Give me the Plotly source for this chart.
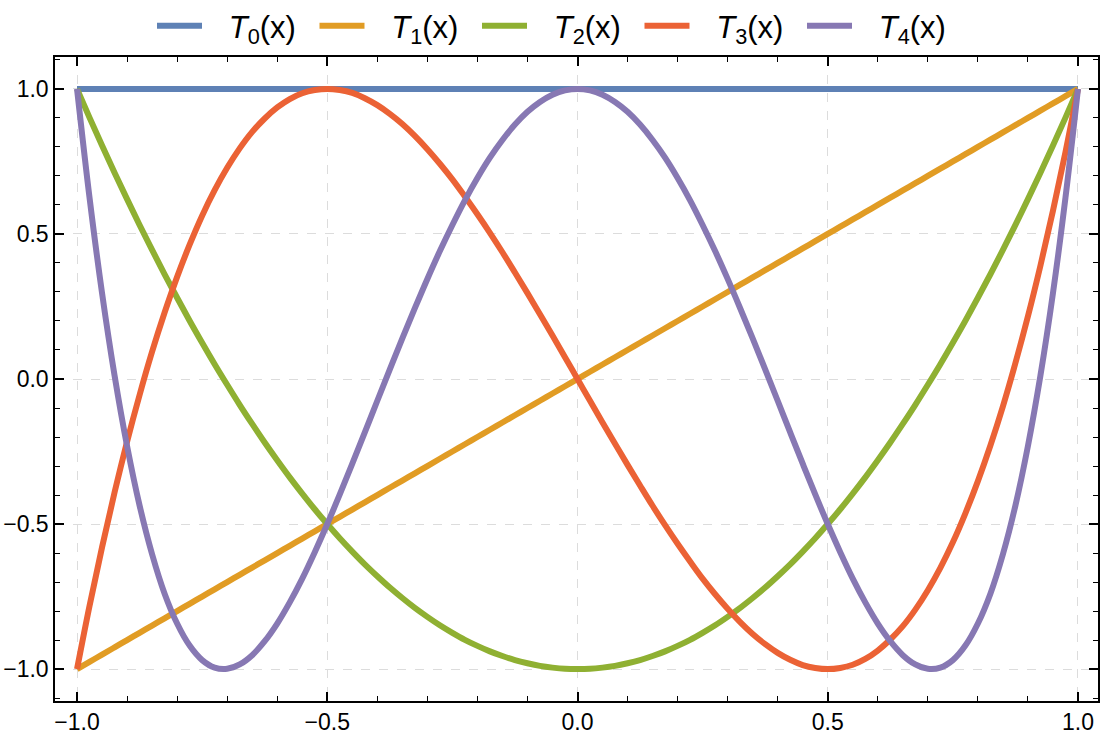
import plotly.graph_objects as go

# sample points, step 0.025 on [-1, 1]
x = [-1.000, -0.975, -0.950, -0.925, -0.900, -0.875, -0.850, -0.825, -0.800, -0.775,
     -0.750, -0.725, -0.700, -0.675, -0.650, -0.625, -0.600, -0.575, -0.550, -0.525,
     -0.500, -0.475, -0.450, -0.425, -0.400, -0.375, -0.350, -0.325, -0.300, -0.275,
     -0.250, -0.225, -0.200, -0.175, -0.150, -0.125, -0.100, -0.075, -0.050, -0.025,
     0.000,
     0.025, 0.050, 0.075, 0.100, 0.125, 0.150, 0.175, 0.200, 0.225, 0.250,
     0.275, 0.300, 0.325, 0.350, 0.375, 0.400, 0.425, 0.450, 0.475, 0.500,
     0.525, 0.550, 0.575, 0.600, 0.625, 0.650, 0.675, 0.700, 0.725, 0.750,
     0.775, 0.800, 0.825, 0.850, 0.875, 0.900, 0.925, 0.950, 0.975, 1.000]

t0 = [1.0] * 81

t1 = list(x)

t2 = [1.000, 0.901, 0.805, 0.711, 0.620, 0.531, 0.445, 0.361, 0.280, 0.201,
      0.125, 0.051, -0.020, -0.089, -0.155, -0.219, -0.280, -0.339, -0.395, -0.449,
      -0.500, -0.549, -0.595, -0.639, -0.680, -0.719, -0.755, -0.789, -0.820, -0.849,
      -0.875, -0.899, -0.920, -0.939, -0.955, -0.969, -0.980, -0.989, -0.995, -0.999,
      -1.000,
      -0.999, -0.995, -0.989, -0.980, -0.969, -0.955, -0.939, -0.920, -0.899, -0.875,
      -0.849, -0.820, -0.789, -0.755, -0.719, -0.680, -0.639, -0.595, -0.549, -0.500,
      -0.449, -0.395, -0.339, -0.280, -0.219, -0.155, -0.089, -0.020, 0.051, 0.125,
      0.201, 0.280, 0.361, 0.445, 0.531, 0.620, 0.711, 0.805, 0.901, 1.000]

t3 = [-1.000, -0.782, -0.580, -0.391, -0.216, -0.055, 0.094, 0.229, 0.352, 0.463,
      0.563, 0.651, 0.728, 0.795, 0.852, 0.898, 0.936, 0.965, 0.985, 0.996,
      1.000, 0.996, 0.986, 0.968, 0.944, 0.914, 0.879, 0.838, 0.792, 0.742,
      0.688, 0.629, 0.568, 0.504, 0.437, 0.367, 0.296, 0.223, 0.150, 0.075,
      0.000,
      -0.075, -0.150, -0.223, -0.296, -0.367, -0.437, -0.504, -0.568, -0.629, -0.688,
      -0.742, -0.792, -0.838, -0.879, -0.914, -0.944, -0.968, -0.986, -0.996, -1.000,
      -0.996, -0.985, -0.965, -0.936, -0.898, -0.852, -0.795, -0.728, -0.651, -0.563,
      -0.463, -0.352, -0.229, -0.094, 0.055, 0.216, 0.391, 0.580, 0.782, 1.000]

t4 = [1.000, 0.625, 0.296, 0.012, -0.231, -0.436, -0.604, -0.740, -0.843, -0.919,
      -0.969, -0.995, -0.999, -0.984, -0.952, -0.904, -0.843, -0.770, -0.688, -0.597,
      -0.500, -0.398, -0.292, -0.184, -0.075, 0.033, 0.140, 0.244, 0.345, 0.441,
      0.531, 0.616, 0.693, 0.763, 0.824, 0.877, 0.921, 0.955, 0.980, 0.995,
      1.000,
      0.995, 0.980, 0.955, 0.921, 0.877, 0.824, 0.763, 0.693, 0.616, 0.531,
      0.441, 0.345, 0.244, 0.140, 0.033, -0.075, -0.184, -0.292, -0.398, -0.500,
      -0.597, -0.688, -0.770, -0.843, -0.904, -0.952, -0.984, -0.999, -0.995, -0.969,
      -0.919, -0.843, -0.740, -0.604, -0.436, -0.231, 0.012, 0.296, 0.625, 1.000]

names = ["<i>T</i><sub>0</sub>(x)", "<i>T</i><sub>1</sub>(x)", "<i>T</i><sub>2</sub>(x)",
         "<i>T</i><sub>3</sub>(x)", "<i>T</i><sub>4</sub>(x)"]
colors = ["#5E81B5", "#E19C24", "#8FB032", "#EB6235", "#8778B3"]

fig = go.Figure()
for ys, name, col in zip([t0, t1, t2, t3, t4], names, colors):
    # leading spaces widen the gap between legend line and label
    fig.add_trace(go.Scatter(x=x, y=ys, mode="lines", name="\u2002\u2009" + name,
                             line=dict(color=col, width=6, shape="spline", smoothing=1.0)))

axis_style = dict(
    showline=True, linecolor="black", linewidth=1.5, mirror="ticks",
    ticks="inside", ticklen=9, tickwidth=1.5, tickcolor="black",
    showgrid=True, gridcolor="#dcdcdc", griddash="dash", gridwidth=1,
    zeroline=False, tickformat=".1f", tickfont=dict(size=23),
    minor=dict(ticks="inside", ticklen=5, tickwidth=1.2, tickcolor="black",
               dtick=0.1, showgrid=False),
)

fig.update_xaxes(range=[-1.044, 1.040], dtick=0.5, tick0=0, **axis_style)
fig.update_yaxes(range=[-1.110, 1.110], dtick=0.5, tick0=0, **axis_style)

fig.update_layout(
    width=1100, height=737,
    margin=dict(l=55, r=2, t=57, b=36, autoexpand=False),
    plot_bgcolor="white", paper_bgcolor="white",
    font=dict(family="Liberation Sans", size=23, color="black"),
    legend=dict(orientation="h", x=0.093, xanchor="left", y=1.048, yanchor="middle",
                font=dict(size=31), itemwidth=45, entrywidth=102.5,
                bgcolor="rgba(0,0,0,0)"),
    showlegend=True,
)

# drop the default 8px page margin so the figure fills the window
fig.write_html("out.html", config={"displayModeBar": False},
               post_script="document.body.style.margin = '0';")
